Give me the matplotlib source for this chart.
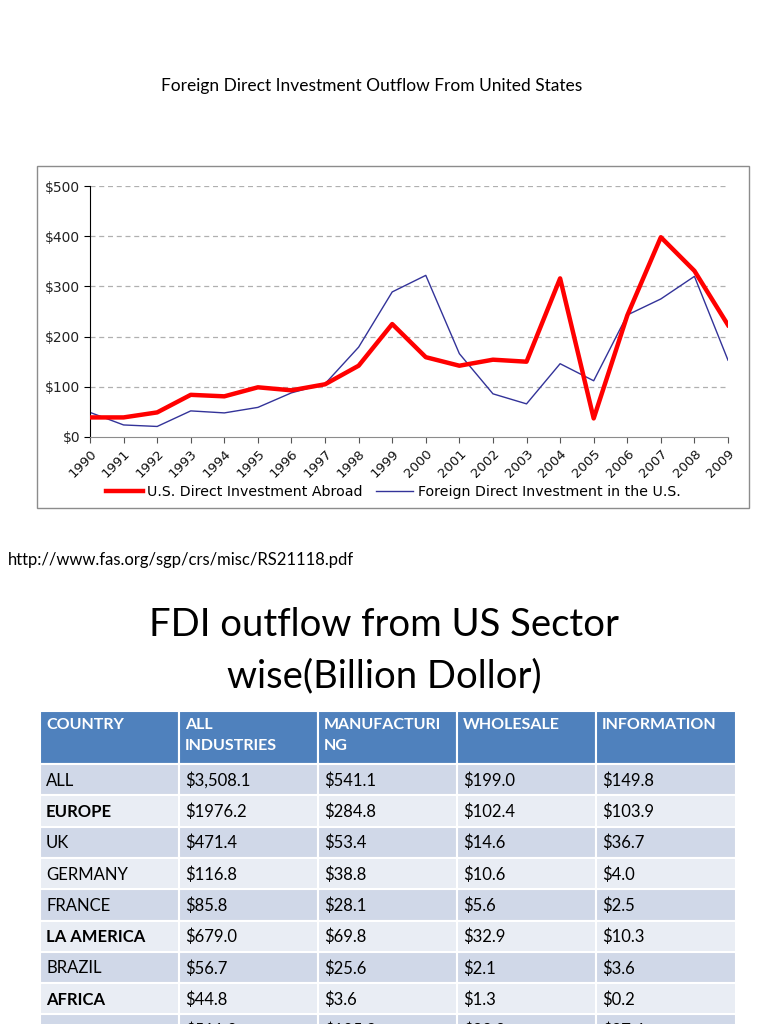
import matplotlib
matplotlib.use("Agg")
import matplotlib.pyplot as plt
from matplotlib.patches import Rectangle

# chart data (billions of dollars)
years = list(range(1990, 2010))
us_abroad = [39, 39, 49, 84, 81, 99, 93, 105, 142, 225, 159, 142, 154, 150, 316, 37, 242, 398, 331, 223]
fdi_in_us = [49, 24, 21, 52, 48, 59, 88, 106, 179, 289, 322, 166, 86, 66, 146, 112, 243, 275, 320, 153]
y_ticks = [0, 100, 200, 300, 400, 500]
y_tick_labels = ['$0', '$100', '$200', '$300', '$400', '$500']

# table data
col_headers = ['COUNTRY', 'ALL\nINDUSTRIES', 'MANUFACTURI\nNG', 'WHOLESALE', 'INFORMATION']
countries = ['ALL', 'EUROPE', 'UK', 'GERMANY', 'FRANCE', 'LA AMERICA', 'BRAZIL', 'AFRICA', 'ASIA']
bold_rows = ['EUROPE', 'LA AMERICA', 'AFRICA', 'ASIA']
all_industries = ['$3,508.1', '$1976.2', '$471.4', '$116.8', '$85.8', '$679.0', '$56.7', '$44.8', '$511.8']
manufacturing = ['$541.1', '$284.8', '$53.4', '$38.8', '$28.1', '$69.8', '$25.6', '$3.6', '$105.3']
wholesale = ['$199.0', '$102.4', '$14.6', '$10.6', '$5.6', '$32.9', '$2.1', '$1.3', '$22.8']
information = ['$149.8', '$103.9', '$36.7', '$4.0', '$2.5', '$10.3', '$3.6', '$0.2', '$27.4']

W, H = 768, 1024
fig = plt.figure(figsize=(W / 100, H / 100), dpi=100)

# overlay in pixel coords for the slide parts
bg = fig.add_axes([0, 0, 1, 1])
bg.set_xlim(0, W)
bg.set_ylim(H, 0)
bg.axis('off')

slide_font = 'Lato'
bg.text(372, 86, 'Foreign Direct Investment Outflow From United States', ha='center', va='center',
        fontsize=12.5, family=slide_font, color='black')
bg.add_patch(Rectangle((37, 166), 712, 342, fill=False, edgecolor='#8c8c8c', lw=1))
bg.text(8, 560, 'http://www.fas.org/sgp/crs/misc/RS21118.pdf', ha='left', va='center',
        fontsize=12, family=slide_font, color='black')
bg.text(384, 625, 'FDI outflow from US Sector', ha='center', va='center',
        fontsize=27.5, family=slide_font, color='black')
bg.text(384, 676, 'wise(Billion Dollor)', ha='center', va='center',
        fontsize=27.5, family=slide_font, color='black')

# table
col_x = [40, 179, 318, 457, 596, 736]
head_top, head_bot = 711, 764
row_h = 31.3
columns = [countries, all_industries, manufacturing, wholesale, information]
for j, hdr in enumerate(col_headers):
    x0 = col_x[j]
    bg.add_patch(Rectangle((x0, head_top), col_x[j + 1] - x0, head_bot - head_top,
                           facecolor='#4f81bd', edgecolor='white', lw=1.5))
    bg.text(x0 + 6, head_top + 7, hdr, ha='left', va='top', fontsize=11.5, family=slide_font,
            fontweight='bold', color='white', linespacing=1.6)
for i in range(len(countries)):
    y0 = head_bot + i * row_h
    face = '#d0d8e8' if i % 2 == 0 else '#e9edf4'
    for j, col in enumerate(columns):
        x0 = col_x[j]
        bg.add_patch(Rectangle((x0, y0), col_x[j + 1] - x0, row_h,
                               facecolor=face, edgecolor='white', lw=1.5))
        weight = 'bold' if (j == 0 and col[i] in bold_rows) else 'normal'
        bg.text(x0 + 6, y0 + row_h / 2 + 1, col[i], ha='left', va='center', fontsize=12,
                family=slide_font, fontweight=weight, color='black')

# line chart
ax = fig.add_axes([90 / W, 1 - 437 / H, (728 - 90) / W, (437 - 186) / H])
ax.plot(years, us_abroad, color='#ff0000', lw=3.2, label='U.S. Direct Investment Abroad', zorder=3)
ax.plot(years, fdi_in_us, color='#333399', lw=1.0, label='Foreign Direct Investment in the U.S.', zorder=2)
ax.set_xlim(1990, 2009)
ax.set_ylim(0, 500)
ax.set_yticks(y_ticks)
ax.set_yticklabels(y_tick_labels)
ax.set_xticks(years)
ax.set_xticklabels([str(y) for y in years], rotation=45, ha='right', rotation_mode='anchor')
for v in y_ticks[1:]:
    ax.axhline(v, color='#b0b0b0', lw=0.9, ls=(0, (4, 3)), zorder=1)
ax.spines['top'].set_visible(False)
ax.spines['right'].set_visible(False)
ax.spines['left'].set_color('black')
ax.spines['bottom'].set_color('#8c8c8c')
ax.tick_params(axis='y', labelsize=10, colors='black', labelcolor='#222222', length=4, width=0.8, pad=3)
ax.tick_params(axis='x', labelsize=9.5, colors='#555555', labelcolor='#111111', length=4, width=0.8, pad=3)
for lab in ax.get_xticklabels() + ax.get_yticklabels():
    lab.set_family('DejaVu Sans')
ax.set_facecolor('none')

fig.legend(loc='center', bbox_to_anchor=(393 / W, 1 - 492 / H), ncol=2, frameon=False,
           handlelength=2.6, columnspacing=1.0, handletextpad=0.3,
           prop={'family': 'DejaVu Sans', 'size': 10.2})

fig.savefig('out.png', dpi=100)
